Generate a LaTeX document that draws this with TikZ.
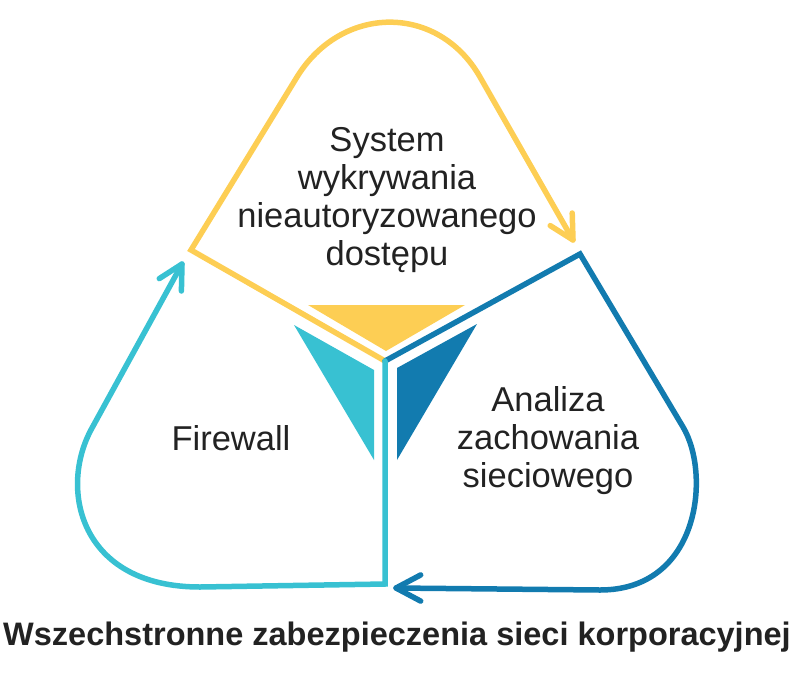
\documentclass[tikz,border=0pt]{standalone}
\usepackage{fontspec}
\setmainfont{Liberation Sans}
\definecolor{cyel}{HTML}{FDCE54}
\definecolor{ccya}{HTML}{38C1D2}
\definecolor{cblu}{HTML}{127BAF}
\definecolor{ink}{HTML}{222222}
\tikzset{
  ring/.style={line width=5.5pt, line join=miter, line cap=round},
  tiphead/.style={line width=5.5pt, line cap=round, line join=round},
  lbl/.style={font=\fontsize{34.5}{38}\selectfont, text=ink, align=center, inner sep=0pt},
  ttl/.style={font=\bfseries\fontsize{32.5}{36}\selectfont, text=ink, inner sep=0pt}
}
\begin{document}
\begin{tikzpicture}[x=1pt,y=-1pt]
\useasboundingbox (0,0) rectangle (800,686);
% key points
\coordinate (ctr) at (385,361);
\coordinate (ycorner) at (191,250);
\coordinate (ytipA) at (573,240);
\coordinate (ctip) at (182,264);
\coordinate (btip) at (396,588);
% triangles
\fill[cyel] (308,305) -- (465,305) -- (386,351) -- cycle;
\fill[ccya] (294,325) -- (374,370) -- (374,460) -- cycle;
\fill[cblu] (477,324) -- (397,368) -- (397,460) -- cycle;
% yellow loop
\draw[ring, cyel] (ctr) -- (ycorner) -- (297,77)
  .. controls (341.5,4.6) and (437.8,3.2) .. (480,77) -- (ytipA);
\draw[tiphead, cyel] (550.2,225.6) -- (ytipA) -- (572.2,213);
% blue loop
\draw[ring, cblu] (ctr) -- (580,254) -- (683,427)
  .. controls (711,474) and (700,590) .. (600,590) -- (btip);
\draw[tiphead, cblu] (420.7,574.9) -- (btip) -- (420.7,601.1);
% cyan loop
\draw[ring, ccya] (ctr) -- (385,584) -- (200,587)
  .. controls (80,587) and (58,489) .. (92,428) -- (ctip);
\draw[tiphead, ccya] (159.3,278.6) -- (ctip) -- (181.4,291);
% labels
\node[lbl, anchor=base] (ids) at (387,265) {System\\wykrywania\\nieautoryzowanego\\dostępu};
\node[lbl, anchor=base] (fw) at (231,450) {Firewall};
\node[lbl, anchor=base] (nba) at (548,487) {Analiza\\zachowania\\sieciowego};
\node[ttl, anchor=base] (title) at (397,645) {Wszechstronne zabezpieczenia sieci korporacyjnej};
\end{tikzpicture}
\end{document}
